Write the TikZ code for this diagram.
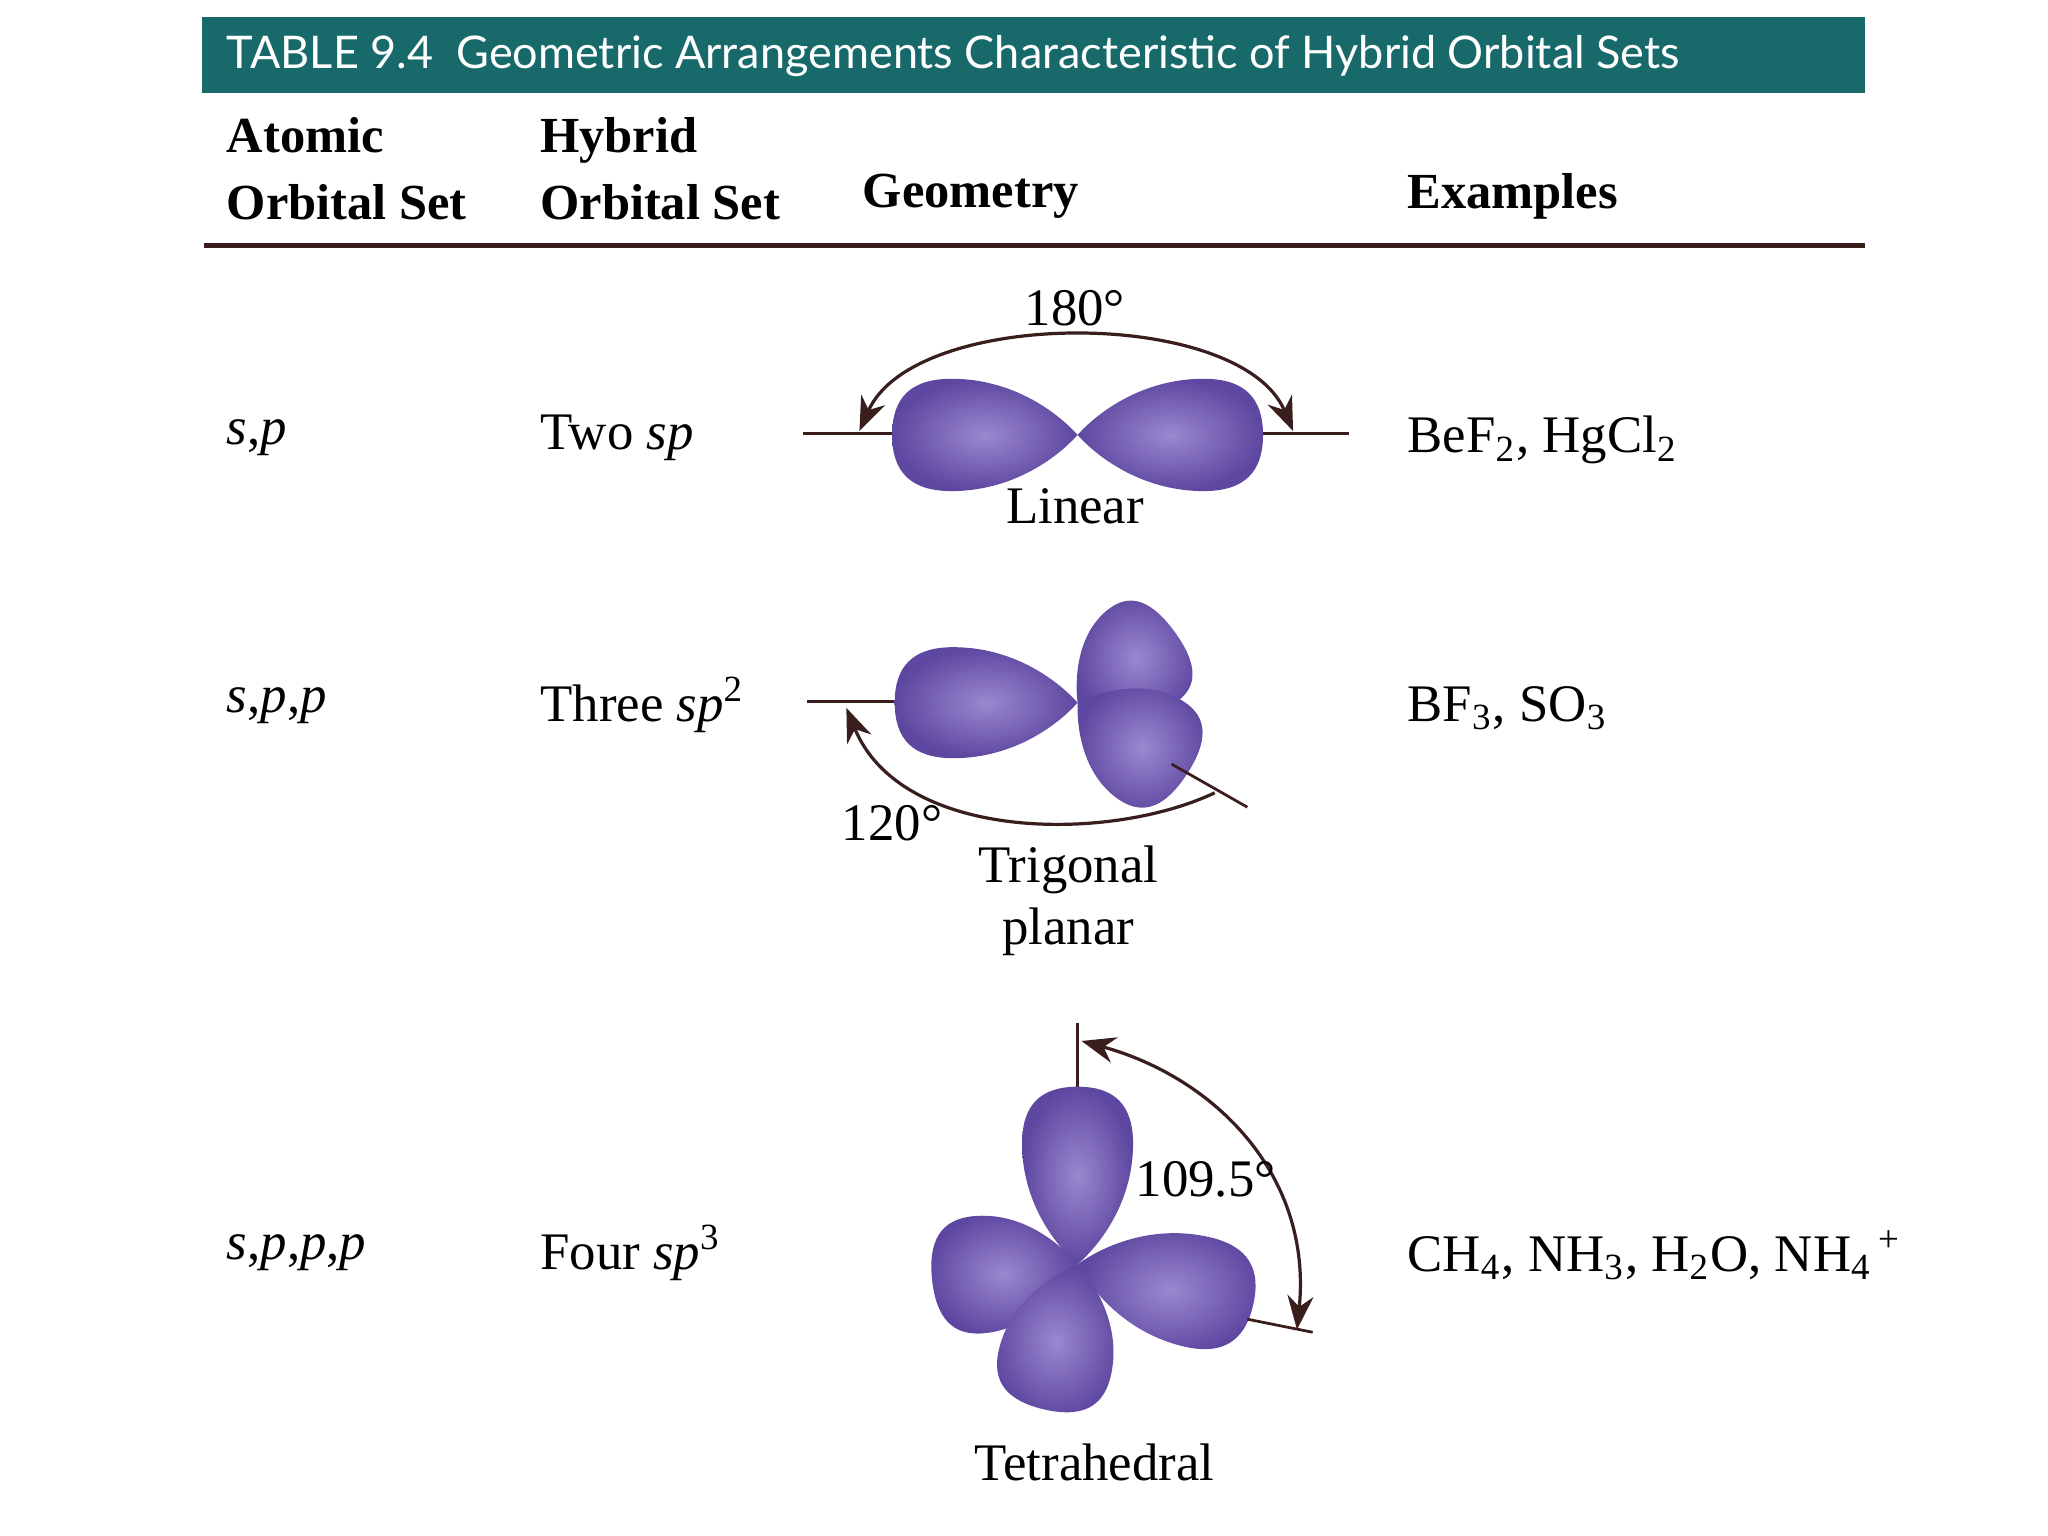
\documentclass[tikz,border=0pt]{standalone}
\usepackage{fontspec}
\setmainfont{Liberation Serif}
\newfontfamily\hdfont{Lato}
\usetikzlibrary{arrows.meta}
\definecolor{teal1}{HTML}{17696A}
\definecolor{rulec}{HTML}{3A1E1E}
\definecolor{lobeout}{HTML}{5E47A0}
\definecolor{lobein}{HTML}{9A88D0}
\tikzset{
  txt/.style={anchor=west,inner sep=0pt,font=\fontsize{11.5}{13}\selectfont},
  hd/.style={anchor=west,inner sep=0pt,font=\fontsize{11}{14.5}\selectfont\bfseries,align=left},
  lbl/.style={inner sep=0pt,font=\fontsize{11.5}{13.5}\selectfont,align=center},
  axis/.style={draw=rulec,line width=0.6pt},
  arc/.style={draw=rulec,line width=0.7pt,-{Stealth[length=2.6mm,width=2mm]}},
  arcb/.style={draw=rulec,line width=0.7pt,{Stealth[length=2.6mm,width=2mm]}-{Stealth[length=2.6mm,width=2mm]}},
  lobestyle/.style={inner color=lobein,outer color=lobeout}
}
\newcommand\sub[1]{\textsubscript{#1}}
\newcommand\sups[1]{\textsuperscript{#1}}
% \lobe{x}{y}{angle}{length}{width}
\newcommand\lobe[5]{%
  \shade[lobestyle,shift={(#1,#2)},rotate=#3]
    (0,0) .. controls ({0.12*#4},{0.22*#5}) and ({0.36*#4},{0.5*#5}) .. ({0.68*#4},{0.5*#5})
    .. controls ({0.9*#4},{0.5*#5}) and ({#4},{0.33*#5}) .. ({#4},0)
    .. controls ({#4},{-0.33*#5}) and ({0.9*#4},{-0.5*#5}) .. ({0.68*#4},{-0.5*#5})
    .. controls ({0.36*#4},{-0.5*#5}) and ({0.12*#4},{-0.22*#5}) .. (0,0) -- cycle;}
\begin{document}
\begin{tikzpicture}[x=1cm,y=1cm]
\useasboundingbox (0,0) rectangle (15.68,-11.76);
% header
\fill[teal1] (1.55,-0.13) rectangle (14.28,-0.71);
\node[anchor=west,inner sep=0pt,text=white,font=\hdfont\fontsize{9.8}{12}\selectfont] (title) at (1.73,-0.43) {TABLE 9.4\ \ Geometric Arrangements Characteristic of Hybrid Orbital Sets};
\node[hd] (h1) at (1.73,-1.29) {Atomic\\Orbital Set};
\node[hd] (h2) at (4.13,-1.29) {Hybrid\\Orbital Set};
\node[hd] (h3) at (6.60,-1.50) {Geometry};
\node[hd] (h4) at (10.77,-1.50) {Examples};
\coordinate (rl) at (1.56,-1.88); \coordinate (rr) at (14.28,-1.88);
\draw[rulec,line width=0.9pt] (rl) -- (rr);
% row texts
\node[txt] (a1) at (1.73,-3.35) {\textit{s},\textit{p}};
\node[txt] (b1) at (4.13,-3.35) {Two \textit{sp}};
\node[txt] (e1) at (10.77,-3.37) {BeF\sub{2}, HgCl\sub{2}};
\node[txt] (a2) at (1.73,-5.40) {\textit{s},\textit{p},\textit{p}};
\node[txt] (b2) at (4.13,-5.40) {Three \textit{sp}\sups{2}};
\node[txt] (e2) at (10.77,-5.42) {BF\sub{3}, SO\sub{3}};
\node[txt] (a3) at (1.73,-9.59) {\textit{s},\textit{p},\textit{p},\textit{p}};
\node[txt] (b3) at (4.13,-9.59) {Four \textit{sp}\sups{3}};
\node[txt] (e3) at (10.77,-9.61) {CH\sub{4}, NH\sub{3}, H\sub{2}O, NH\sub{4}\sups{\,+}};
% ---- linear
\coordinate (la) at (6.15,-3.32); \coordinate (lb) at (6.84,-3.32);
\coordinate (lc) at (9.66,-3.32); \coordinate (ld) at (10.33,-3.32);
\draw[axis] (la) -- (lb); \draw[axis] (lc) -- (ld);
\lobe{8.25}{-3.33}{180}{1.42}{0.86}
\lobe{8.25}{-3.33}{0}{1.42}{0.86}
\coordinate (l1) at (6.58,-3.30); \coordinate (l2) at (9.90,-3.30);
\draw[arcb] (l1) .. controls (7.0,-2.35) and (9.5,-2.35) .. (l2);
\node[lbl] (t180) at (8.23,-2.36) {180°};
\node[lbl] (lin) at (8.23,-3.88) {Linear};
% ---- trigonal
\coordinate (ta) at (6.18,-5.37); \coordinate (tb) at (6.86,-5.37);
\draw[axis] (ta) -- (tb);
\lobe{8.25}{-5.38}{180}{1.40}{0.85}
\lobe{8.25}{-5.38}{36}{0.92}{0.88}
\lobe{8.25}{-5.38}{-33}{1.00}{0.90}
\coordinate (tc) at (8.97,-5.85); \coordinate (td) at (9.55,-6.18);
\draw[axis] (tc) -- (td);
\coordinate (t1) at (9.30,-6.07); \coordinate (t2) at (6.48,-5.42);
\draw[arc] (t1) .. controls (8.5,-6.45) and (6.9,-6.45) .. (t2);
\node[lbl] (t120) at (6.83,-6.30) {120°};
\node[lbl] (trig) at (8.18,-6.90) {Trigonal\\planar};
% ---- tetrahedral
\coordinate (qa) at (8.25,-7.83); \coordinate (qb) at (8.25,-8.35);
\draw[axis] (qa) -- (qb);
\lobe{8.25}{-9.68}{90}{1.36}{0.85}
\lobe{8.25}{-9.68}{186}{1.12}{0.90}
\lobe{8.25}{-9.68}{-13}{1.38}{0.86}
\lobe{8.25}{-9.68}{-103}{1.14}{0.88}
\coordinate (qc) at (9.55,-10.10); \coordinate (qd) at (10.05,-10.20);
\draw[axis] (qc) -- (qd);
\coordinate (q1) at (8.28,-7.97); \coordinate (q2) at (9.93,-10.18);
\draw[arcb] (q1) .. controls (9.3,-8.25) and (10.05,-9.0) .. (q2);
\node[lbl] (t109) at (9.23,-9.03) {109.5°};
\node[lbl] (tet) at (8.38,-11.20) {Tetrahedral};
\end{tikzpicture}
\end{document}
